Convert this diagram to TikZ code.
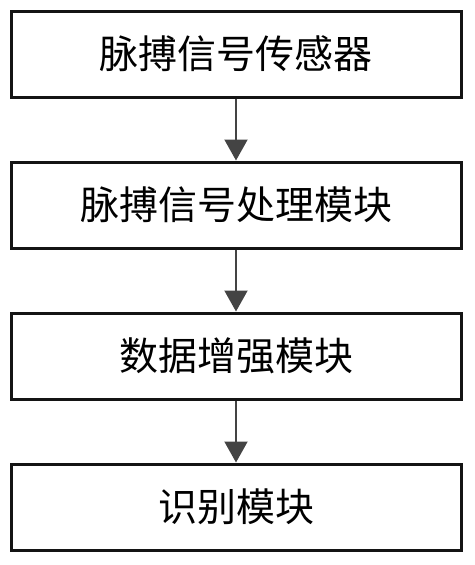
\documentclass[tikz,border=0pt]{standalone}
\usepackage{fontspec}
\usetikzlibrary{positioning, arrows.meta}
\newfontfamily\cjk{Noto Sans CJK SC}
\definecolor{FlowBlack}{RGB}{20, 20, 20}
\definecolor{FlowArrow}{RGB}{68, 68, 68}

\begin{document}
\begin{tikzpicture}[x=1pt, y=1pt,
    stagebox/.style={draw=FlowBlack, line width=3pt, minimum width=450pt, minimum height=86pt,
        inner sep=0pt, font=\cjk\fontsize{39}{46}\selectfont},
    flowarrow/.style={draw=FlowArrow, line width=2pt, -{Triangle[width=23pt, length=21pt]}}]

    % --- Canvas ---
    \useasboundingbox (0,0) rectangle (474,-565);

    % --- Stages ---
    \node[stagebox] (sensor) at (236,-54) {脉搏信号传感器};
    \node[stagebox, below=62pt of sensor] (proc) {脉搏信号处理模块};
    \node[stagebox, below=62pt of proc] (aug) {数据增强模块};
    \node[stagebox, below=62pt of aug] (recog) {识别模块};

    % --- Arrows ---
    \foreach \from/\to in {sensor/proc, proc/aug, aug/recog} {
        \draw[flowarrow] (\from) -- (\to);
    }

\end{tikzpicture}
\end{document}
